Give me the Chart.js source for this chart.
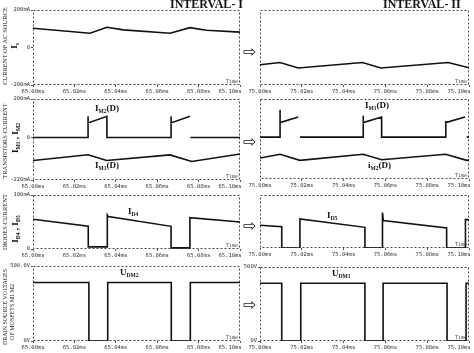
<!DOCTYPE html>
<html>
<head>
<meta charset="utf-8">
<script src="https://cdn.jsdelivr.net/npm/chart.js@4.4.0/dist/chart.umd.min.js"></script>
<style>
body { margin: 0; background: #fff; overflow: hidden; }
#wrap { position: relative; width: 474px; height: 353px; overflow: hidden; font-family: "Liberation Serif", serif; color: #111; }
.panel { position: absolute; }
.txt { position: absolute; white-space: nowrap; line-height: 1; }
.rot { position: absolute; white-space: nowrap; line-height: 1; transform: translate(-50%, -50%) rotate(-90deg); }
.lbl { position: absolute; white-space: nowrap; line-height: 1; font-weight: bold; font-size: 9px; }
.lbl sub, .rot sub { font-size: 0.62em; vertical-align: -0.3em; }
.time { position: absolute; font-family: "DejaVu Sans Mono", monospace; font-size: 5px; color: #333; }
.arrow { position: absolute; font-family: "DejaVu Sans", sans-serif; font-size: 16px; transform: translate(-50%, -50%); line-height: 1; color: #222; }
</style>
</head>
<body>
<div id="wrap"></div>
<script>
// tick values / labels
const leftTicks = [65.00, 65.02, 65.04, 65.06, 65.08, 65.10];
const leftTickLabels = ['65.00ms', '65.02ms', '65.04ms', '65.06ms', '65.08ms', '65.10ms'];
const rightTicks = [75.00, 75.02, 75.04, 75.06, 75.08, 75.10];
const rightTickLabels = ['75.00ms', '75.02ms', '75.04ms', '75.06ms', '75.08ms', '75.10ms'];

// current of ac source (mA)
const isLeftT = [65.000, 65.0275, 65.0357, 65.0437, 65.0662, 65.0758, 65.0838, 65.100];
const isLeftV = [103, 76, 108, 94, 76, 106, 92, 82];
const isRightT = [75.000, 75.0096, 75.0183, 75.0490, 75.0578, 75.0900, 75.1000];
const isRightV = [-92, -80, -109, -80, -109, -80, -108];

// transistor currents (mA), null = break in trace
const imUpLeftT = [65.000, 65.0266, 65.0266, 65.0266, 65.0357, 65.0357, 65.0667, 65.0667, 65.0667, 65.0758, 65.0758, 65.0760, 65.100];
const imUpLeftV = [0, 0, 110, 76, 110, 0, 0, 110, 76, 110, null, 0, 0];
const imLowLeftT = [65.000, 65.0266, 65.0356, 65.0662, 65.0767, 65.100];
const imLowLeftV = [-119, -89, -119, -90, -124, -85];
const imUpRightT = [75.000, 75.0096, 75.0096, 75.0096, 75.0183, 75.0183, 75.0191, 75.0494, 75.0494, 75.0494, 75.0582, 75.0582, 75.0889, 75.0889, 75.0889, 75.0981, 75.0981, 75.0989, 75.100];
const imUpRightV = [0, 0, 144, 76, 105, null, 0, 0, 112, 76, 105, 0, 0, 84, 76, 105, null, 0, 0];
const imLowRightT = [75.000, 75.0096, 75.0191, 75.0494, 75.0582, 75.0888, 75.0989, 75.100];
const imLowRightV = [-110, -90, -122, -90, -119, -90, -122, -121];

// diode currents (mA)
const idLeftT = [65.000, 65.0267, 65.0267, 65.0359, 65.0359, 65.0364, 65.0667, 65.0667, 65.0758, 65.0758, 65.100];
const idLeftV = [55, 42, 4, 4, 63, 60, 42, 2, 2, 58, 50];
const idRightT = [75.000, 75.0104, 75.0104, 75.0191, 75.0191, 75.0502, 75.0502, 75.0586, 75.0586, 75.0590, 75.0893, 75.0893, 75.0983, 75.0983, 75.100];
const idRightV = [43, 40, 0, 0, 55, 39, 0, 0, 67, 52, 38, 0, 0, 54, 53];

// drain source voltages (V)
const udLeftT = [65.000, 65.027, 65.027, 65.0361, 65.0361, 65.0668, 65.0668, 65.076, 65.076, 65.100];
const udLeftV = [390, 390, 0, 0, 390, 390, 0, 0, 390, 390];
const udRightT = [75.000, 75.0104, 75.0104, 75.0195, 75.0195, 75.0502, 75.0502, 75.0589, 75.0589, 75.0895, 75.0895, 75.0986, 75.0986, 75.100];
const udRightV = [390, 390, 0, 0, 390, 390, 0, 0, 390, 390, 0, 0, 390, 390];

// y axis ranges and labels
const isTicks = [-200, 0, 200];
const isTickLabels = ['-200mA', '0', '200mA'];
const imTicks = [-220, 0, 200];
const imTickLabels = ['-220mA', '0', '200mA'];
const idTicks = [0, 100];
const idTickLabels = ['0', '100mA'];
const udTicks = [0, 500];
const udTickLabelsL = ['0V', '500.0V'];
const udTickLabelsR = ['0V', '500V'];

const AXW = 33, PADT = 5, PADR = 26, AXH = 12;
const wrap = document.getElementById('wrap');

Chart.defaults.font.family = '"DejaVu Sans Mono", monospace';
Chart.defaults.font.size = 5.5;

// dotted frame round the plot area
const frame = {
    id: 'frame',
    beforeDatasetsDraw(chart) {
        const a = chart.chartArea, c = chart.ctx;
        c.save();
        c.setLineDash([2, 2]);
        c.strokeStyle = '#444';
        c.lineWidth = 1;
        c.strokeRect(Math.round(a.left) + 0.5, Math.round(a.top) + 0.5, Math.round(a.width) - 1, Math.round(a.height) - 1);
        c.restore();
    }
};

function makeChart(p) {
    const div = document.createElement('div');
    div.className = 'panel';
    div.style.left = (p.x0 - AXW) + 'px';
    div.style.top = (p.y0 - PADT) + 'px';
    div.style.width = (p.x1 - p.x0 + AXW + PADR) + 'px';
    div.style.height = (p.y1 - p.y0 + PADT + AXH) + 'px';
    const cv = document.createElement('canvas');
    div.appendChild(cv);
    wrap.appendChild(div);

    const datasets = p.series.map(s => ({
        data: s[0].map((t, i) => ({x: t, y: s[1][i]})),
        borderColor: '#111',
        borderWidth: 1.6,
        pointRadius: 0,
        tension: 0,
        spanGaps: false,
        fill: false
    }));

    // last time label sits left of its tick, as in the original plot
    const lastIdx = p.xl.length - 1;
    const xLabel = (v, i) => i === lastIdx ? p.xl[i] + '\u00a0\u00a0\u00a0\u00a0\u00a0\u00a0' : p.xl[i];

    new Chart(cv, {
        type: 'line',
        data: {datasets: datasets},
        options: {
            responsive: true,
            maintainAspectRatio: false,
            animation: false,
            layout: {padding: {top: PADT, right: PADR, left: 0, bottom: 0}},
            plugins: {legend: {display: false}, tooltip: {enabled: false}},
            scales: {
                x: {
                    type: 'linear',
                    min: p.xt[0],
                    max: p.xt[lastIdx],
                    afterFit: s => { s.height = AXH; },
                    afterBuildTicks: s => { s.ticks = p.xt.map(v => ({value: v})); },
                    ticks: {autoSkip: false, maxRotation: 0, padding: 1, color: '#333', callback: xLabel},
                    grid: {drawOnChartArea: false, tickLength: 2, color: '#555'},
                    border: {display: false}
                },
                y: {
                    min: p.yt[0],
                    max: p.yt[p.yt.length - 1],
                    afterFit: s => { s.width = AXW; },
                    afterBuildTicks: s => { s.ticks = p.yt.map(v => ({value: v})); },
                    ticks: {display: !!p.yl, padding: 1, color: '#333', callback: (v, i) => p.yl ? p.yl[i] : ''},
                    grid: {display: !!p.yl, drawOnChartArea: false, tickLength: 2, color: '#555'},
                    border: {display: false}
                }
            }
        },
        plugins: [frame]
    });
}

// left column
makeChart({x0: 33, x1: 240, y0: 10, y1: 85, xt: leftTicks, xl: leftTickLabels, yt: isTicks, yl: isTickLabels,
    series: [[isLeftT, isLeftV]]});
makeChart({x0: 33, x1: 240, y0: 99, y1: 180, xt: leftTicks, xl: leftTickLabels, yt: imTicks, yl: imTickLabels,
    series: [[imUpLeftT, imUpLeftV], [imLowLeftT, imLowLeftV]]});
makeChart({x0: 33, x1: 240, y0: 195, y1: 249, xt: leftTicks, xl: leftTickLabels, yt: idTicks, yl: idTickLabels,
    series: [[idLeftT, idLeftV]]});
makeChart({x0: 33, x1: 240, y0: 266, y1: 341, xt: leftTicks, xl: leftTickLabels, yt: udTicks, yl: udTickLabelsL,
    series: [[udLeftT, udLeftV]]});

// right column
makeChart({x0: 260, x1: 469, y0: 10, y1: 85, xt: rightTicks, xl: rightTickLabels, yt: isTicks, yl: null,
    series: [[isRightT, isRightV]]});
makeChart({x0: 260, x1: 469, y0: 99, y1: 179, xt: rightTicks, xl: rightTickLabels, yt: imTicks, yl: null,
    series: [[imUpRightT, imUpRightV], [imLowRightT, imLowRightV]]});
makeChart({x0: 260, x1: 469, y0: 195, y1: 248, xt: rightTicks, xl: rightTickLabels, yt: idTicks, yl: null,
    series: [[idRightT, idRightV]]});
makeChart({x0: 260, x1: 469, y0: 267, y1: 341, xt: rightTicks, xl: rightTickLabels, yt: udTicks, yl: udTickLabelsR,
    series: [[udRightT, udRightV]]});

// texts
function addText(cls, html, x, y, style) {
    const d = document.createElement('div');
    d.className = cls;
    d.innerHTML = html;
    d.style.left = x + 'px';
    d.style.top = y + 'px';
    if (style) d.style.cssText += style;
    wrap.appendChild(d);
}

addText('txt', 'INTERVAL- I', 170, -2, 'font-weight:bold;font-size:12px;');
addText('txt', 'INTERVAL- II', 383, -2, 'font-weight:bold;font-size:12px;');

addText('rot', 'CURRENT OF AC SOURCE', 5, 46, 'font-size:6.5px;');
addText('rot', 'I<sub>s</sub>', 15, 46, 'font-size:9px;font-weight:bold;');
addText('rot', 'TRANSISTORS CURRENT', 5, 141, 'font-size:6.5px;');
addText('rot', 'I<sub>M1</sub> , I<sub>M2</sub>', 16, 138, 'font-size:9px;font-weight:bold;');
addText('rot', 'DIODES CURRENT', 5, 222, 'font-size:6.5px;');
addText('rot', 'I<sub>D4</sub> , I<sub>D5</sub>', 16, 229, 'font-size:9px;font-weight:bold;');
addText('rot', 'DRAIN SOURCE VOLTAGES', 5, 307, 'font-size:6px;');
addText('rot', 'OF MOSFETS M1 M2', 12, 312, 'font-size:6px;');

addText('lbl', 'I<sub>M2</sub>(D)', 95, 104);
addText('lbl', 'I<sub>M1</sub>(D)', 95, 161);
addText('lbl', 'I<sub>M1</sub>(D)', 365, 101);
addText('lbl', 'i<sub>M2</sub>(D)', 368, 161);
addText('lbl', 'I<sub>D4</sub>', 128, 207);
addText('lbl', 'I<sub>D5</sub>', 327, 211);
addText('lbl', 'U<sub>DM2</sub>', 120, 268);
addText('lbl', 'U<sub>DM1</sub>', 332, 269);

[85, 180, 249, 341].forEach(b => addText('time', 'Time', 226, b - 7));
[85, 179, 248, 341].forEach(b => addText('time', 'Time', 455, b - 7));

[52, 142, 226, 305].forEach(y => addText('arrow', '\u21E8', 250, y));
</script>
</body>
</html>
